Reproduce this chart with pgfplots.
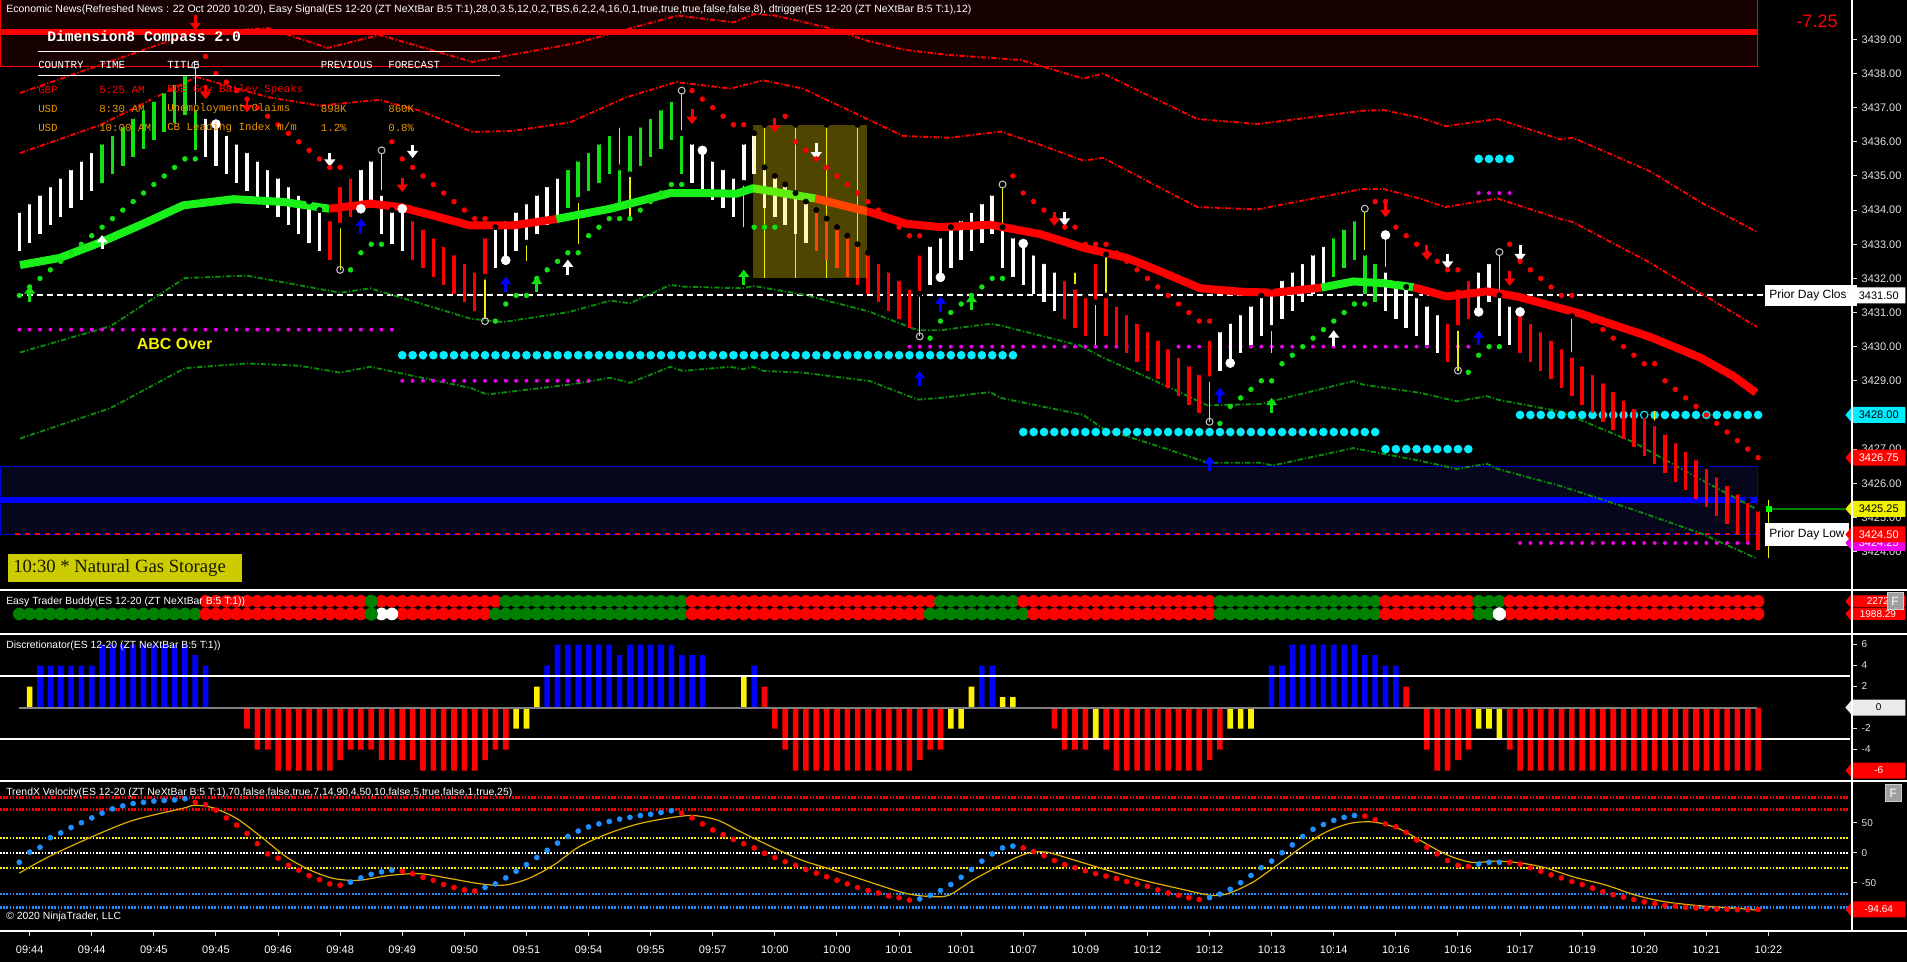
\documentclass[border=0pt]{standalone}
\usepackage{fontspec}
\setmainfont{Liberation Sans}
\newfontfamily\monof{Liberation Mono}
\newfontfamily\serf{Liberation Serif}
\usepackage{pgfplots}
\usepackage{pgfplotstable}
\pgfplotsset{compat=1.18}
\usetikzlibrary{arrows.meta,shapes.symbols}

\definecolor{barg}{RGB}{20,225,20}
\definecolor{mag}{RGB}{25,240,25}
\definecolor{etbg}{RGB}{0,128,0}
\definecolor{bandg}{RGB}{10,140,10}
\definecolor{cyn}{RGB}{0,238,255}
\definecolor{mgt}{RGB}{235,0,235}
\definecolor{vblue}{RGB}{30,144,255}
\definecolor{vgold}{RGB}{225,175,0}
\definecolor{olv}{RGB}{204,204,0}
\definecolor{newsbg}{RGB}{22,0,0}
\definecolor{zonebg}{RGB}{6,6,28}
\definecolor{orng}{RGB}{235,150,0}
\definecolor{tkc}{RGB}{225,225,225}
\definecolor{ylw}{RGB}{240,240,0}
\definecolor{boxy}{RGB}{255,230,0}
\definecolor{circ}{RGB}{190,190,190}

\pgfplotsset{
  pan/.style={scale only axis, width=1389pt, xmin=-1.865, xmax=177.07,
    anchor=north west, axis line style={draw=none}, clip=false,
    tick align=outside, major tick length=3.75pt,
    tick style={draw=tkc, line width=0.75pt},
    ticklabel style={font=\fontsize{8.25}{9}\selectfont, text=tkc},
    xtick=\empty, ytick pos=right, yticklabel pos=right},
  dotrow/.style={line width=#1, line cap=round, dash pattern=on 0pt off 7.7626pt},
  vbar/.style 2 args={only marks, mark=none, error bars/.cd, y dir=minus, y explicit,
    error mark=none, error bar style={draw=#1, line width=#2}}
}
\tikzset{pm/.style={shape=signal, signal to=west, signal pointer angle=100, fill=#1,
  anchor=west, minimum width=45pt, minimum height=12pt, inner sep=1pt,
  font=\fontsize{8.25}{9}\selectfont}}

% ---------------- price bars (top, bottom) ----------------
\pgfplotstableread{
i hi lo
0 3434.00 3432.80
1 3434.25 3433.05
2 3434.50 3433.30
3 3434.75 3433.55
4 3435.00 3433.80
5 3435.25 3434.05
6 3435.50 3434.30
7 3435.75 3434.55
18 3436.75 3435.55
19 3436.50 3435.30
20 3436.25 3435.05
21 3436.00 3434.80
22 3435.75 3434.55
23 3435.50 3434.30
24 3435.25 3434.05
25 3435.00 3433.80
26 3434.75 3433.55
27 3434.50 3433.30
28 3434.25 3433.05
29 3434.00 3432.80
33 3435.25 3434.05
34 3435.50 3434.30
35 3434.50 3433.30
36 3434.00 3433.00
37 3434.00 3432.80
46 3433.50 3432.30
47 3433.75 3432.55
48 3434.00 3432.80
49 3434.25 3433.05
50 3434.50 3433.30
51 3434.75 3433.55
52 3435.00 3433.80
65 3436.00 3434.80
66 3435.75 3434.55
67 3435.50 3434.30
68 3435.25 3434.05
69 3435.00 3433.80
70 3436.00 3434.80
71 3436.25 3435.05
72 3435.25 3434.05
73 3435.00 3433.80
74 3434.75 3433.55
75 3434.50 3433.30
76 3434.25 3433.05
88 3433.00 3431.80
89 3433.25 3432.05
90 3433.50 3432.30
91 3433.75 3432.55
92 3434.00 3432.80
93 3434.25 3433.05
94 3434.50 3433.30
95 3433.50 3432.30
96 3433.25 3432.05
97 3433.00 3431.80
98 3432.75 3431.55
99 3432.50 3431.30
100 3432.25 3431.05
116 3430.50 3429.30
117 3430.75 3429.55
118 3431.00 3429.80
119 3431.25 3430.05
120 3431.50 3430.30
121 3431.75 3430.55
122 3432.00 3430.80
123 3432.25 3431.05
124 3432.50 3431.30
125 3432.75 3431.55
126 3433.00 3431.80
132 3432.25 3431.05
133 3432.00 3430.80
134 3431.75 3430.55
135 3431.50 3430.30
136 3431.25 3430.05
137 3431.00 3429.80
141 3432.25 3431.05
142 3432.50 3431.30
143 3431.50 3430.30
144 3431.25 3430.05
}\barsW
\pgfplotstableread{
i hi lo
8 3436.00 3434.80
9 3436.25 3435.05
10 3436.50 3435.30
11 3436.75 3435.55
12 3437.00 3435.80
13 3437.25 3436.05
14 3437.50 3436.30
15 3437.75 3436.55
16 3438.00 3436.80
17 3437.00 3435.75
53 3435.25 3434.05
54 3435.50 3434.30
55 3435.75 3434.55
56 3436.00 3434.80
57 3436.25 3435.05
58 3435.25 3434.15
59 3436.25 3435.05
60 3436.50 3435.30
61 3436.75 3435.55
62 3437.00 3435.80
63 3437.25 3436.05
64 3436.25 3435.05
127 3433.25 3432.05
128 3433.50 3432.30
129 3433.75 3432.55
130 3432.75 3431.55
131 3432.50 3431.30
}\barsG
\pgfplotstableread{
i hi lo
30 3433.75 3432.55
31 3434.75 3433.55
32 3435.00 3433.80
38 3433.75 3432.55
39 3433.50 3432.30
40 3433.25 3432.05
41 3433.00 3431.80
42 3432.75 3431.55
43 3432.50 3431.30
44 3432.25 3431.05
45 3433.25 3432.05
77 3434.00 3432.80
78 3433.75 3432.55
79 3433.50 3432.30
80 3433.25 3432.05
81 3433.00 3431.80
82 3432.75 3431.55
83 3432.50 3431.30
84 3432.25 3431.05
85 3432.00 3430.80
86 3431.75 3430.55
87 3432.75 3431.55
101 3432.00 3430.80
102 3431.75 3430.55
103 3431.50 3430.30
104 3432.50 3431.30
105 3431.50 3430.30
106 3431.25 3430.05
107 3431.00 3429.80
108 3430.75 3429.55
109 3430.50 3429.30
110 3430.25 3429.05
111 3430.00 3428.80
112 3429.75 3428.55
113 3429.50 3428.30
114 3429.25 3428.05
115 3430.25 3429.05
138 3430.75 3429.55
139 3431.75 3430.55
140 3432.00 3430.80
145 3431.00 3429.80
146 3430.75 3429.55
147 3430.50 3429.30
148 3430.25 3429.05
149 3430.00 3428.80
150 3429.75 3428.55
151 3429.50 3428.30
152 3429.25 3428.05
153 3429.00 3427.80
154 3428.75 3427.55
155 3428.50 3427.30
156 3428.25 3427.05
157 3428.00 3426.80
158 3427.75 3426.55
159 3427.50 3426.30
160 3427.25 3426.05
161 3427.00 3425.80
162 3426.75 3425.55
163 3426.50 3425.30
164 3426.25 3425.05
165 3426.00 3424.80
166 3425.75 3424.55
167 3425.50 3424.30
168 3425.25 3424.05
}\barsR
\pgfplotstableread{
i hi lo
17 3438.25 3435.75
31 3433.55 3432.25
35 3435.75 3434.50
45 3432.05 3430.80
49 3433.05 3432.50
54 3434.30 3433.00
58 3436.50 3435.25
59 3435.05 3433.80
64 3437.50 3436.25
70 3434.80 3433.50
72 3436.50 3435.25
87 3431.55 3430.30
95 3434.75 3433.50
102 3432.25 3431.75
104 3431.30 3430.05
105 3432.70 3431.50
115 3429.05 3427.80
121 3430.55 3429.80
130 3434.04 3432.75
132 3433.27 3432.25
139 3430.55 3429.30
143 3432.77 3431.50
150 3430.90 3429.75
158 3428.20 3427.75
}\wicks
\pgfplotstableread{
i hi lo
72 3436.5 3432.0
75 3436.5 3432.0
78 3436.5 3432.0
81 3436.5 3432.0
}\boxlines
% trailing stop dots
\pgfplotstableread{
i p
0 3431.50
1 3431.75
2 3432.00
3 3432.25
4 3432.50
5 3432.75
6 3433.00
7 3433.25
8 3433.50
9 3433.75
10 3434.00
11 3434.25
12 3434.50
13 3434.75
14 3435.00
15 3435.25
16 3435.50
17 3435.50
32 3432.25
33 3432.75
34 3433.00
35 3433.00
46 3430.75
47 3431.25
48 3431.50
49 3431.50
50 3432.00
51 3432.25
52 3432.50
53 3432.75
54 3432.75
55 3433.25
56 3433.50
57 3433.75
58 3433.75
59 3433.75
60 3434.00
61 3434.25
62 3434.50
63 3434.75
64 3434.75
71 3433.50
72 3433.50
73 3433.50
88 3430.25
89 3430.75
90 3431.00
91 3431.25
92 3431.50
93 3431.75
94 3432.00
95 3432.00
116 3427.75
117 3428.25
118 3428.50
119 3428.75
120 3429.00
121 3429.00
122 3429.50
123 3429.75
124 3430.00
125 3430.25
126 3430.50
127 3430.75
128 3431.00
129 3431.25
130 3431.25
140 3429.25
141 3429.75
142 3430.00
143 3430.00
}\dotsG
\pgfplotstableread{
i p
18 3438.50
19 3438.00
20 3437.75
21 3437.50
22 3437.25
23 3437.00
24 3436.75
25 3436.50
26 3436.25
27 3436.00
28 3435.75
29 3435.50
30 3435.25
31 3435.25
36 3436.00
37 3435.50
38 3435.25
39 3435.00
40 3434.75
41 3434.50
42 3434.25
43 3434.00
44 3433.75
45 3433.75
65 3437.50
66 3437.25
67 3437.00
68 3436.75
69 3436.50
70 3436.50
74 3436.75
75 3436.00
76 3435.75
77 3435.50
78 3435.25
79 3435.00
80 3434.75
81 3434.50
82 3434.25
83 3434.00
84 3433.75
85 3433.50
86 3433.25
87 3433.25
96 3435.00
97 3434.50
98 3434.25
99 3434.00
100 3433.75
101 3433.50
102 3433.50
103 3433.00
104 3433.00
105 3433.00
106 3432.75
107 3432.50
108 3432.25
109 3432.00
110 3431.75
111 3431.50
112 3431.25
113 3431.00
114 3430.75
115 3430.75
131 3434.25
132 3434.25
133 3433.50
134 3433.25
135 3433.00
136 3432.75
137 3432.50
138 3432.25
139 3432.25
144 3433.00
145 3432.50
146 3432.25
147 3432.00
148 3431.75
149 3431.50
150 3431.50
151 3431.00
152 3430.75
153 3430.50
154 3430.25
155 3430.00
156 3429.75
157 3429.50
158 3429.50
159 3429.00
160 3428.75
161 3428.50
162 3428.25
163 3428.00
164 3427.75
165 3427.50
166 3427.25
167 3427.00
168 3426.75
}\dotsR
% velocity
\pgfplotstableread{
i v
0 -16
1 1
2 9
3 25
4 33
5 42
6 50
7 58
8 66
9 73
10 78
11 82
12 84
13 86
14 87
15 88
16 90
32 -49
33 -42
34 -36
35 -32
36 -29
45 -58
46 -52
47 -42
48 -31
49 -20
50 -8
51 4
52 16
53 27
54 36
55 43
56 48
57 52
58 56
59 59
60 62
61 64
62 67
63 70
87 -77
88 -71
89 -63
90 -53
91 -41
92 -28
93 -14
94 -2
95 8
96 11
115 -75
116 -69
117 -61
118 -50
119 -38
120 -25
121 -14
122 0
123 13
124 27
125 39
126 47
127 54
128 59
129 62
141 -19
142 -16
143 -16
}\velB
\pgfplotstableread{
i v
17 84
18 80
19 71
20 58
21 46
22 32
23 15
24 -2
25 -9
26 -21
27 -29
28 -38
29 -45
30 -52
31 -54
37 -31
38 -35
39 -41
40 -46
41 -53
42 -58
43 -62
44 -64
64 66
65 58
66 48
67 38
68 30
69 22
70 15
71 8
72 -1
73 -8
74 -15
75 -21
76 -28
77 -34
78 -40
79 -46
80 -52
81 -58
82 -63
83 -67
84 -72
85 -75
86 -79
97 8
98 2
99 -5
100 -13
101 -20
102 -25
103 -30
104 -35
105 -39
106 -43
107 -48
108 -52
109 -56
110 -62
111 -67
112 -71
113 -75
114 -78
130 61
131 55
132 48
133 43
134 34
135 21
136 9
137 -2
138 -13
139 -21
140 -23
144 -16
145 -19
146 -25
147 -31
148 -37
149 -42
150 -48
151 -53
152 -59
153 -65
154 -70
155 -74
156 -78
157 -82
158 -85
159 -88
160 -89
161 -91
162 -92
163 -93
164 -94
165 -94
166 -95
167 -95
168 -94.64
}\velR
% discretionator
\pgfplotstableread{
i v
2 4
3 4
4 4
5 4
6 4
7 4
8 6
9 6
10 6
11 6
12 6
13 6
14 6
15 6
16 6
17 5
18 4
51 4
52 6
53 6
54 6
55 6
56 6
57 6
58 5
59 6
60 6
61 6
62 6
63 6
64 5
65 5
66 5
71 4
93 4
94 4
121 4
122 4
123 6
124 6
125 6
126 6
127 6
128 6
129 6
130 5
131 5
132 4
133 4
}\discB
\pgfplotstableread{
i v
1 2
48 -2
49 -2
50 2
70 3
90 -2
91 -2
92 2
95 1
96 1
104 -3
117 -2
118 -2
119 -2
141 -2
142 -2
143 -3
}\discY
\pgfplotstableread{
i v
22 -2
23 -4
24 -4
25 -6
26 -6
27 -6
28 -6
29 -6
30 -6
31 -5
32 -4
33 -4
34 -4
35 -5
36 -5
37 -5
38 -5
39 -6
40 -6
41 -6
42 -6
43 -6
44 -6
45 -5
46 -4
47 -4
72 2
73 -2
74 -4
75 -6
76 -6
77 -6
78 -6
79 -6
80 -6
81 -6
82 -6
83 -6
84 -6
85 -6
86 -6
87 -5
88 -4
89 -4
100 -2
101 -4
102 -4
103 -4
105 -4
106 -6
107 -6
108 -6
109 -6
110 -6
111 -6
112 -6
113 -6
114 -6
115 -5
116 -4
134 2
136 -4
137 -6
138 -6
139 -5
140 -4
144 -4
145 -6
146 -6
147 -6
148 -6
149 -6
150 -6
151 -6
152 -6
153 -6
154 -6
155 -6
156 -6
157 -6
158 -6
159 -6
160 -6
161 -6
162 -6
163 -6
164 -6
165 -6
166 -6
167 -6
168 -6
}\discR

\begin{document}
\begin{tikzpicture}
\useasboundingbox (0pt,0pt) rectangle (1430.25pt,-721.5pt);
\fill[black] (0pt,0pt) rectangle (1430.25pt,-721.5pt);

% ================= MAIN PRICE PANEL =================
\begin{axis}[pan, at={(0pt,0pt)}, height=442.5pt, ymin=3422.873, ymax=3440.154,
  ytick={3424,3425,3426,3427,3428,3429,3430,3431,3432,3433,3434,3435,3436,3437,3438,3439},
  yticklabels={3424.00,3425.00,3426.00,3427.00,3428.00,3429.00,3430.00,3431.00,3432.00,3433.00,3434.00,3435.00,3436.00,3437.00,3438.00,3439.00}]
% news box
\addplot[fill=newsbg, draw=red, line width=0.75pt] coordinates {(-1.865,3438.22) (167.9,3438.22) (167.9,3440.154) (-1.865,3440.154)} -- cycle;
\addplot[red, line width=5pt] coordinates {(-1.865,3439.22) (167.9,3439.22)};
% zone
\addplot[fill=zonebg, draw=blue!85!black, line width=0.75pt] coordinates {(-1.865,3424.5) (167.9,3424.5) (167.9,3426.5) (-1.865,3426.5)} -- cycle;
\addplot[blue, line width=4.5pt] coordinates {(-1.865,3425.5) (167.9,3425.5)};
\addplot[red, line width=1.5pt, dash pattern=on 3.75pt off 3.75pt] coordinates {(-0.4,3424.5) (167.9,3424.5)};
\addplot[white, line width=1.5pt, dash pattern=on 4.3pt off 3.2pt] coordinates {(-0.2,3431.5) (168.7,3431.5)};
% bands
\addplot[red, line width=1.4pt, dash pattern=on 4pt off 1.5pt on 1pt off 1.5pt] coordinates {(0.07,3437.43) (7.8,3438.25) (16.7,3439.19) (24.0,3439.33) (29.8,3438.75) (34.8,3439.13) (43.8,3438.34) (53.8,3438.89) (63.6,3439.70) (69.0,3439.50) (71.0,3439.74) (72.8,3439.71) (78.3,3439.33) (81.7,3438.98) (85.4,3438.70) (89.9,3438.54) (96.7,3438.40) (102.8,3437.85) (104.7,3438.0) (113.8,3436.67) (119.6,3436.52) (129.8,3436.91) (131.8,3436.93) (135.3,3436.71) (137.8,3436.46) (142.8,3436.67) (148.9,3436.07) (150.1,3436.12) (157.6,3435.13) (162.4,3434.24) (167.9,3433.36)};
\addplot[red, line width=1.4pt, dash pattern=on 4pt off 1.5pt on 1pt off 1.5pt] coordinates {(0.07,3435.67) (7.8,3436.49) (17.1,3437.90) (24.0,3437.31) (29.0,3437.06) (34.8,3437.23) (38.7,3436.91) (43.8,3436.29) (47.7,3436.32) (53.2,3436.57) (58.7,3437.31) (63.5,3437.75) (68.7,3437.56) (71.9,3437.80) (75.7,3437.56) (85.4,3436.17) (89.9,3436.12) (94.8,3436.30) (98.6,3435.92) (102.8,3435.45) (104.7,3435.53) (113.8,3434.09) (119.6,3434.02) (129.8,3434.62) (131.8,3434.62) (135.3,3434.34) (137.8,3434.09) (142.8,3434.34) (148.9,3433.74) (150.1,3433.65) (157.6,3432.45) (162.4,3431.57) (167.9,3430.58)};
\addplot[bandg, line width=1.4pt, dash pattern=on 4pt off 1.5pt on 1pt off 1.5pt] coordinates {(0.07,3429.83) (8.8,3430.6) (16.0,3432.01) (22.0,3432.08) (31.0,3431.58) (33.9,3431.71) (43.6,3430.82) (46.7,3430.72) (53.2,3431.02) (57.1,3431.35) (59.0,3431.27) (62.9,3431.81) (64.1,3431.76) (69.9,3431.71) (70.9,3431.78) (75.7,3431.53) (82.2,3431.02) (86.8,3430.48) (89.0,3430.48) (93.8,3430.67) (94.8,3430.62) (102.5,3430.03) (104.7,3429.68) (110.9,3428.84) (114.8,3428.28) (119.9,3428.32) (128.9,3428.99) (129.8,3428.89) (135.3,3428.65) (138.9,3428.4) (141.8,3428.55) (142.8,3428.45) (148.9,3428.1) (155.9,3427.21) (162.4,3426.12) (167.9,3425.23)};
\addplot[bandg, line width=1.4pt, dash pattern=on 4pt off 1.5pt on 1pt off 1.5pt] coordinates {(0.07,3427.31) (8.8,3428.2) (16.0,3429.37) (22.0,3429.51) (27.1,3429.44) (31.0,3429.24) (33.9,3429.41) (43.6,3428.79) (45.2,3428.6) (53.2,3428.89) (57.1,3429.09) (59.0,3428.94) (62.9,3429.41) (64.1,3429.29) (68.7,3429.41) (69.9,3429.34) (70.9,3429.41) (71.9,3429.29) (75.7,3429.24) (82.2,3428.99) (86.8,3428.45) (89.0,3428.5) (93.8,3428.67) (94.8,3428.5) (102.8,3428.0) (104.7,3427.6) (110.9,3427.0) (114.8,3426.6) (119.9,3426.6) (121.1,3426.52) (128.9,3427.03) (135.3,3426.66) (138.9,3426.42) (141.8,3426.57) (142.8,3426.42) (148.9,3425.92) (155.9,3425.23) (162.4,3424.54) (167.9,3423.79)};
% magenta and cyan rows
\addplot[mgt, dotrow=3pt] coordinates {(0,3430.5) (36.01,3430.5)};
\addplot[mgt, dotrow=3pt] coordinates {(37,3429.0) (55.01,3429.0)};
\addplot[mgt, dotrow=3pt] coordinates {(86,3430.0) (140.01,3430.0)};
\addplot[mgt, dotrow=3pt] coordinates {(141,3434.5) (144.01,3434.5)};
\addplot[mgt, dotrow=3pt] coordinates {(145,3424.25) (168.01,3424.25)};
\addplot[cyn, dotrow=6.5pt] coordinates {(37,3429.75) (96.01,3429.75)};
\addplot[cyn, dotrow=6.5pt] coordinates {(97,3427.5) (131.01,3427.5)};
\addplot[cyn, dotrow=6.5pt] coordinates {(132,3427.0) (140.01,3427.0)};
\addplot[cyn, dotrow=6.5pt] coordinates {(141,3435.5) (144.01,3435.5)};
\addplot[cyn, dotrow=6.5pt] coordinates {(145,3428.0) (168.01,3428.0)};
% trailing stops
\addplot[only marks, mark=*, mark size=1.8pt, color=barg] table[x=i,y=p] {\dotsG};
\addplot[only marks, mark=*, mark size=1.8pt, color=red] table[x=i,y=p] {\dotsR};
% wicks and box lines
\addplot[vbar={ylw}{0.9pt}] table[x=i, y=hi, y error minus expr=\thisrow{hi}-\thisrow{lo}] {\boxlines};
\addplot[vbar={ylw}{0.9pt}] table[x=i, y=hi, y error minus expr=\thisrow{hi}-\thisrow{lo}] {\wicks};
% bars
\addplot[vbar={white}{2.6pt}] table[x=i, y=hi, y error minus expr=\thisrow{hi}-\thisrow{lo}] {\barsW};
\addplot[vbar={barg}{2.6pt}] table[x=i, y=hi, y error minus expr=\thisrow{hi}-\thisrow{lo}] {\barsG};
\addplot[vbar={red}{2.6pt}] table[x=i, y=hi, y error minus expr=\thisrow{hi}-\thisrow{lo}] {\barsR};
% moving average
\addplot[mag, line width=6pt, line join=round] coordinates {(0.07,3432.39) (3.93,3432.6) (7.8,3433.05) (11.98,3433.6) (15.85,3434.14) (20.7,3434.32) (25.5,3434.24) (29.95,3434.04)};
\addplot[red, line width=6pt, line join=round] coordinates {(29.95,3434.04) (33.9,3434.19) (36.8,3434.09) (40.0,3433.84) (43.55,3433.55) (47.7,3433.55) (51.9,3433.74)};
\addplot[mag, line width=6pt, line join=round] coordinates {(51.9,3433.74) (57.1,3434.04) (62.9,3434.5) (66.1,3434.5) (69.3,3434.48) (70.9,3434.64) (76.9,3434.34)};
\addplot[red, line width=6pt, line join=round] coordinates {(76.9,3434.34) (82.2,3433.94) (85.7,3433.6) (89.0,3433.5) (93.8,3433.57) (98.6,3433.3) (102.8,3432.9) (107.0,3432.6) (110.2,3432.21) (114.1,3431.71) (118.0,3431.61) (121.2,3431.58) (125.8,3431.73)};
\addplot[mag, line width=6pt, line join=round] coordinates {(125.8,3431.73) (128.9,3431.91) (131.8,3431.86) (134.7,3431.74)};
\addplot[red, line width=6pt, line join=round] coordinates {(134.7,3431.74) (137.9,3431.47) (141.8,3431.62) (144.7,3431.47) (150.8,3430.97) (157.6,3430.28) (162.4,3429.68) (165.6,3429.14) (167.8,3428.65)};
% highlighted news box
\addplot[fill=boxy, fill opacity=0.3, draw=none] coordinates {(70.9,3432.0) (81.9,3432.0) (81.9,3436.5) (70.9,3436.5)} -- cycle;
% arrows
\addplot[draw=barg, line width=2.2pt, -{Triangle[width=8pt,length=5.5pt]}, quiver={u=0,v=\thisrow{v}}] table[x=i,y=p] {
i p v
1 3431.32 0.45
50 3431.60 0.45
70 3431.81 0.45
92 3431.07 0.45
121 3428.05 0.45
};
\addplot[draw=white, line width=2.2pt, -{Triangle[width=8pt,length=5.5pt]}, quiver={u=0,v=\thisrow{v}}] table[x=i,y=p] {
i p v
8 3432.85 0.42
53 3432.10 0.45
127 3430.03 0.45
30 3435.67 -0.40
38 3435.92 -0.40
77 3435.97 -0.49
101 3433.94 -0.40
138 3432.70 -0.42
145 3432.97 -0.47
};
\addplot[draw=blue, line width=2.2pt, -{Triangle[width=8pt,length=5.5pt]}, quiver={u=0,v=\thisrow{v}}] table[x=i,y=p] {
i p v
33 3433.30 0.45
47 3431.60 0.45
87 3428.84 0.45
89 3431.02 0.45
116 3428.35 0.45
115 3426.37 0.42
141 3430.05 0.42
};
\addplot[draw=red, line width=2.2pt, -{Triangle[width=8pt,length=5.5pt]}, quiver={u=0,v=\thisrow{v}}] table[x=i,y=p] {
i p v
17 3439.70 -0.43
18 3437.65 -0.40
22 3437.26 -0.40
37 3434.93 -0.40
65 3436.96 -0.44
73 3436.70 -0.43
100 3433.94 -0.40
132 3434.24 -0.45
136 3432.97 -0.44
144 3432.21 -0.43
};
% pivots
\addplot[only marks, mark=o, mark size=2.6pt, mark options={draw=circ, line width=0.8pt}] coordinates {(17,3438.25) (31,3432.25) (35,3435.75) (45,3430.75) (64,3437.5) (87,3430.3) (95,3434.75) (115,3427.8) (130,3434.04) (139,3429.3) (143,3432.77)};
\addplot[only marks, mark=*, mark size=3.4pt, color=white] coordinates {(19,3436.52) (33,3434.04) (37,3434.04) (47,3432.53) (66,3435.75) (89,3432.03) (97,3433.02) (117,3429.52) (132,3433.27) (141,3431.02) (145,3431.02)};
% current price
\addplot[etbg, line width=1.5pt] coordinates {(169,3425.25) (176.4,3425.25)};
\addplot[ylw, line width=1pt] coordinates {(169,3423.8) (169,3425.5)};
\addplot[only marks, mark=square*, mark size=2pt, color=green] coordinates {(169,3425.25)};
% labels
\node[fill=white, text=black, anchor=west, font=\fontsize{9}{10}\selectfont, minimum height=15.75pt, inner xsep=3pt, inner ysep=0pt] at (axis cs:168.67,3431.5) {Prior Day Close};
\node[fill=white, text=black, anchor=west, font=\fontsize{9}{10}\selectfont, minimum height=17pt, inner xsep=3pt, inner ysep=0pt] at (axis cs:168.67,3424.5) {Prior Day Low};
\node[pm=white, text=black] at (axis cs:176.4,3431.5) {3431.50};
\node[pm=cyn, text=black] at (axis cs:176.4,3428.0) {3428.00};
\node[pm=red, text=white] at (axis cs:176.4,3426.75) {3426.75};
\node[pm=mgt, text=white] at (axis cs:176.4,3424.25) {3424.25};
\node[pm=red, text=white] at (axis cs:176.4,3424.5) {3424.50};
\node[pm=ylw, text=black] at (axis cs:176.4,3425.25) {3425.25};
\node[text=ylw, font=\bfseries\fontsize{12}{13}\selectfont] at (axis cs:15.0,3430.08) {ABC Over};
\end{axis}

% ================= EASY TRADER BUDDY =================
\begin{axis}[pan, at={(0pt,-442.5pt)}, height=33pt, ymin=0, ymax=1, ytick=\empty]
\addplot[red, dotrow=9.5pt] coordinates {(18,0.743) (33.01,0.743)};
\addplot[red, dotrow=9.5pt] coordinates {(35,0.743) (46.01,0.743)};
\addplot[etbg, dotrow=9.5pt] coordinates {(47,0.743) (64.01,0.743)};
\addplot[red, dotrow=9.5pt] coordinates {(65,0.743) (88.01,0.743)};
\addplot[etbg, dotrow=9.5pt] coordinates {(89,0.743) (96.01,0.743)};
\addplot[red, dotrow=9.5pt] coordinates {(97,0.743) (115.01,0.743)};
\addplot[etbg, dotrow=9.5pt] coordinates {(116,0.743) (131.01,0.743)};
\addplot[red, dotrow=9.5pt] coordinates {(132,0.743) (140.01,0.743)};
\addplot[etbg, dotrow=9.5pt] coordinates {(141,0.743) (143.01,0.743)};
\addplot[red, dotrow=9.5pt] coordinates {(144,0.743) (168.01,0.743)};
\addplot[etbg, dotrow=9.5pt] coordinates {(0,0.455) (17.01,0.455)};
\addplot[red, dotrow=9.5pt] coordinates {(18,0.455) (33.01,0.455)};
\addplot[red, dotrow=9.5pt] coordinates {(37,0.455) (45.01,0.455)};
\addplot[etbg, dotrow=9.5pt] coordinates {(46,0.455) (64.01,0.455)};
\addplot[red, dotrow=9.5pt] coordinates {(65,0.455) (87.01,0.455)};
\addplot[etbg, dotrow=9.5pt] coordinates {(88,0.455) (97.01,0.455)};
\addplot[red, dotrow=9.5pt] coordinates {(98,0.455) (115.01,0.455)};
\addplot[etbg, dotrow=9.5pt] coordinates {(116,0.455) (131.01,0.455)};
\addplot[red, dotrow=9.5pt] coordinates {(132,0.455) (140.01,0.455)};
\addplot[etbg, dotrow=9.5pt] coordinates {(141,0.455) (142.01,0.455)};
\addplot[red, dotrow=9.5pt] coordinates {(144,0.455) (168.01,0.455)};
\addplot[only marks, mark=*, mark size=4.75pt, color=etbg] coordinates {(34,0.743) (34,0.455)};
\addplot[white, dotrow=9.5pt] coordinates {(35,0.455) (36.01,0.455)};
\addplot[only marks, mark=*, mark size=4.75pt, color=white] coordinates {(143,0.455)};
\node[pm=red, text=white, minimum height=9pt, font=\fontsize{7.5}{8}\selectfont] at (axis cs:176.4,0.743) {2272};
\node[pm=red, text=white, minimum height=9pt, font=\fontsize{7.5}{8}\selectfont] at (axis cs:176.4,0.455) {1988.29};
\end{axis}

% ================= DISCRETIONATOR =================
\begin{axis}[pan, at={(0pt,-475.5pt)}, height=110.25pt, ymin=-7, ymax=7,
  ytick={-4,-2,2,4,6}, yticklabels={-4,-2,2,4,6},
  ticklabel style={font=\fontsize{7.5}{8}\selectfont, text=tkc}]
\addplot[ybar, bar width=4.2pt, bar shift=0pt, fill=blue, draw=none] table[x=i,y=v] {\discB};
\addplot[ybar, bar width=4.2pt, bar shift=0pt, fill=red, draw=none] table[x=i,y=v] {\discR};
\addplot[ybar, bar width=4.2pt, bar shift=0pt, fill=yellow, draw=none] table[x=i,y=v] {\discY};
\addplot[white, line width=1.5pt] coordinates {(-1.865,3) (176.9,3)};
\addplot[white, line width=1.5pt] coordinates {(-1.865,-3) (176.9,-3)};
\addplot[gray, line width=1.5pt] coordinates {(0,0) (167.9,0)};
\node[pm=white!92!black, text=black, font=\fontsize{7.5}{8}\selectfont] at (axis cs:176.4,0) {0};
\node[pm=red, text=white, font=\fontsize{7.5}{8}\selectfont] at (axis cs:176.4,-6) {-6};
\end{axis}

% ================= TRENDX VELOCITY =================
\begin{axis}[pan, at={(0pt,-585.75pt)}, height=112.5pt, ymin=-130.5, ymax=119.5,
  ytick={-50,0,50}, yticklabels={-50,0,50},
  xtick={1,7,13,19,25,31,37,43,49,55,61,67,73,79,85,91,97,103,109,115,121,127,133,139,145,151,157,163,169},
  xticklabels={09:44,09:44,09:45,09:45,09:46,09:48,09:49,09:50,09:51,09:54,09:55,09:57,10:00,10:00,10:01,10:01,10:07,10:09,10:12,10:12,10:13,10:14,10:16,10:16,10:17,10:19,10:20,10:21,10:22},
  xtick pos=left, xticklabel style={font=\fontsize{8.25}{9}\selectfont, text=white, anchor=center, yshift=-10pt},
  yticklabel style={font=\fontsize{7.5}{8}\selectfont, text=tkc}]
\addplot[red, line width=2pt, dash pattern=on 1.2pt off 1.2pt] coordinates {(-1.865,92) (176.8,92)};
\addplot[red, line width=2pt, dash pattern=on 1.2pt off 1.2pt] coordinates {(-1.865,72) (176.8,72)};
\addplot[yellow, line width=1.5pt, dash pattern=on 1.2pt off 1.2pt] coordinates {(-1.865,25) (176.8,25)};
\addplot[white, line width=1.5pt, dash pattern=on 1.2pt off 1.2pt] coordinates {(-1.865,0) (176.8,0)};
\addplot[yellow, line width=1.5pt, dash pattern=on 1.2pt off 1.2pt] coordinates {(-1.865,-25) (176.8,-25)};
\addplot[vblue, line width=2pt, dash pattern=on 1.2pt off 1.2pt] coordinates {(-1.865,-69) (176.8,-69)};
\addplot[vblue, line width=2pt, dash pattern=on 1.2pt off 1.2pt] coordinates {(-1.865,-91) (176.8,-91)};
\addplot[vgold, line width=0.9pt, smooth] coordinates {(0,-34) (2.8,-7) (6.95,26) (11,54) (15.8,74) (16.9,79) (18.7,75) (21,57) (23.4,26) (25.8,-7) (28.1,-29) (30.4,-43) (32.8,-46) (35.7,-38) (38.7,-35) (41.6,-43) (44.6,-52) (46.9,-54) (49.2,-43) (51.6,-21) (54,9) (56.9,32) (59.8,48) (62.8,58) (65.1,62) (67.5,54) (69.8,34) (72.8,9) (75.7,-13) (79.2,-32) (82.7,-52) (85.7,-68) (88,-73) (89.8,-71) (92.1,-46) (95.1,-18) (97.4,-1) (99.2,1) (101.5,-10) (105.1,-29) (108.6,-46) (112.1,-60) (115.1,-71) (116.8,-68) (119.2,-49) (121.5,-21) (123.9,9) (126.2,34) (128.6,49) (130.9,51) (133.3,40) (135.6,18) (138,-4) (140.3,-16) (142.7,-14) (145,-17) (147.4,-25) (150.3,-41) (153.3,-54) (156.2,-71) (159.1,-82) (162.7,-89) (166.2,-93) (168,-96)};
\addplot[only marks, mark=*, mark size=1.9pt, color=vblue] table[x=i,y=v] {\velB};
\addplot[only marks, mark=*, mark size=1.9pt, color=red] table[x=i,y=v] {\velR};
\node[pm=red, text=white, font=\fontsize{7.5}{8}\selectfont] at (axis cs:176.4,-94.64) {-94.64};
\end{axis}

% ================= frame and annotations =================
\foreach \yy in {-442.5,-475.5,-585.75,-698.25} {\draw[white, line width=1.2pt] (0pt,\yy pt) -- (1430.25pt,\yy pt);}
\draw[white, line width=1pt] (1389pt,0pt) -- (1389pt,-698.25pt);

\node[anchor=west, text=white, inner sep=0pt, font=\fontsize{7.9}{9}\selectfont] at (4.5pt,-7.5pt) {Economic News(Refreshed News : 22 Oct 2020 10:20), Easy Signal(ES 12-20 (ZT NeXtBar B:5 T:1),28,0,3.5,12,0,2,TBS,6,2,2,4,16,0,1,true,true,true,false,false,8), dtrigger(ES 12-20 (ZT NeXtBar B:5 T:1),12)};
\node[anchor=west, text=white, inner sep=0pt, font=\monof\bfseries\fontsize{11}{12}\selectfont] at (35.25pt,-28.5pt) {Dimension8 Compass 2.0};
\draw[white, line width=0.75pt] (28.5pt,-39pt) -- (375pt,-39pt);
\draw[white, line width=0.75pt] (28.5pt,-57pt) -- (375pt,-57pt);
\begin{scope}[every node/.style={anchor=west, inner sep=0pt, font=\monof\fontsize{8.1}{9}\selectfont}]
\node[text=white] at (28.5pt,-48.75pt) {COUNTRY};
\node[text=white] at (74.25pt,-48.75pt) {TIME};
\node[text=white] at (125.25pt,-48.75pt) {TITLE};
\node[text=white] at (240.4pt,-48.75pt) {PREVIOUS};
\node[text=white] at (291pt,-48.75pt) {FORECAST};
\node[text=red] at (28.5pt,-67.5pt) {GBP};
\node[text=red] at (74.25pt,-67.5pt) {5:25 AM};
\node[text=red] at (125.25pt,-67.5pt) {BOE Gov Bailey Speaks};
\node[text=orng] at (28.5pt,-81.75pt) {USD};
\node[text=orng] at (74.25pt,-81.75pt) {8:30 AM};
\node[text=orng] at (125.25pt,-81.75pt) {Unemployment Claims};
\node[text=orng] at (240.4pt,-81.75pt) {898K};
\node[text=orng] at (291pt,-81.75pt) {860K};
\node[text=orng] at (28.5pt,-96pt) {USD};
\node[text=orng] at (74.25pt,-96pt) {10:00 AM};
\node[text=orng] at (125.25pt,-96pt) {CB Leading Index m/m};
\node[text=orng] at (240.4pt,-96pt) {1.2\%};
\node[text=orng] at (291pt,-96pt) {0.8\%};
\end{scope}
\node[text=red, font=\fontsize{13.5}{14}\selectfont] at (1362.75pt,-15.75pt) {-7.25};

\fill[olv] (6pt,-415.5pt) rectangle (181.5pt,-436.5pt);
\node[anchor=west, inner sep=0pt, text={rgb,255:red,25;green,25;blue,0}, font=\serf\fontsize{14}{15}\selectfont] at (9.75pt,-426pt) {10:30 * Natural Gas Storage};

\begin{scope}[every node/.style={anchor=west, inner sep=0pt, text=white, font=\fontsize{7.8}{9}\selectfont}]
\node at (4.5pt,-451.5pt) {Easy Trader Buddy(ES 12-20 (ZT NeXtBar B:5 T:1))};
\node at (4.5pt,-484.5pt) {Discretionator(ES 12-20 (ZT NeXtBar B:5 T:1))};
\node at (4.5pt,-594.75pt) {TrendX Velocity(ES 12-20 (ZT NeXtBar B:5 T:1),70,false,false,true,7,14,90,4,50,10,false,5,true,false,1,true,25)};
\node at (4.5pt,-687.75pt) {\textcopyright{} 2020 NinjaTrader, LLC};
\end{scope}
\node[fill=gray!75, draw=gray!40, text=white, font=\fontsize{9}{10}\selectfont, minimum width=12pt, minimum height=13pt, inner sep=0pt] at (1421.25pt,-450.75pt) {F};
\node[fill=gray!75, draw=gray!40, text=white, font=\fontsize{9}{10}\selectfont, minimum width=12pt, minimum height=13pt, inner sep=0pt] at (1420pt,-594.75pt) {F};
\end{tikzpicture}
\end{document}
